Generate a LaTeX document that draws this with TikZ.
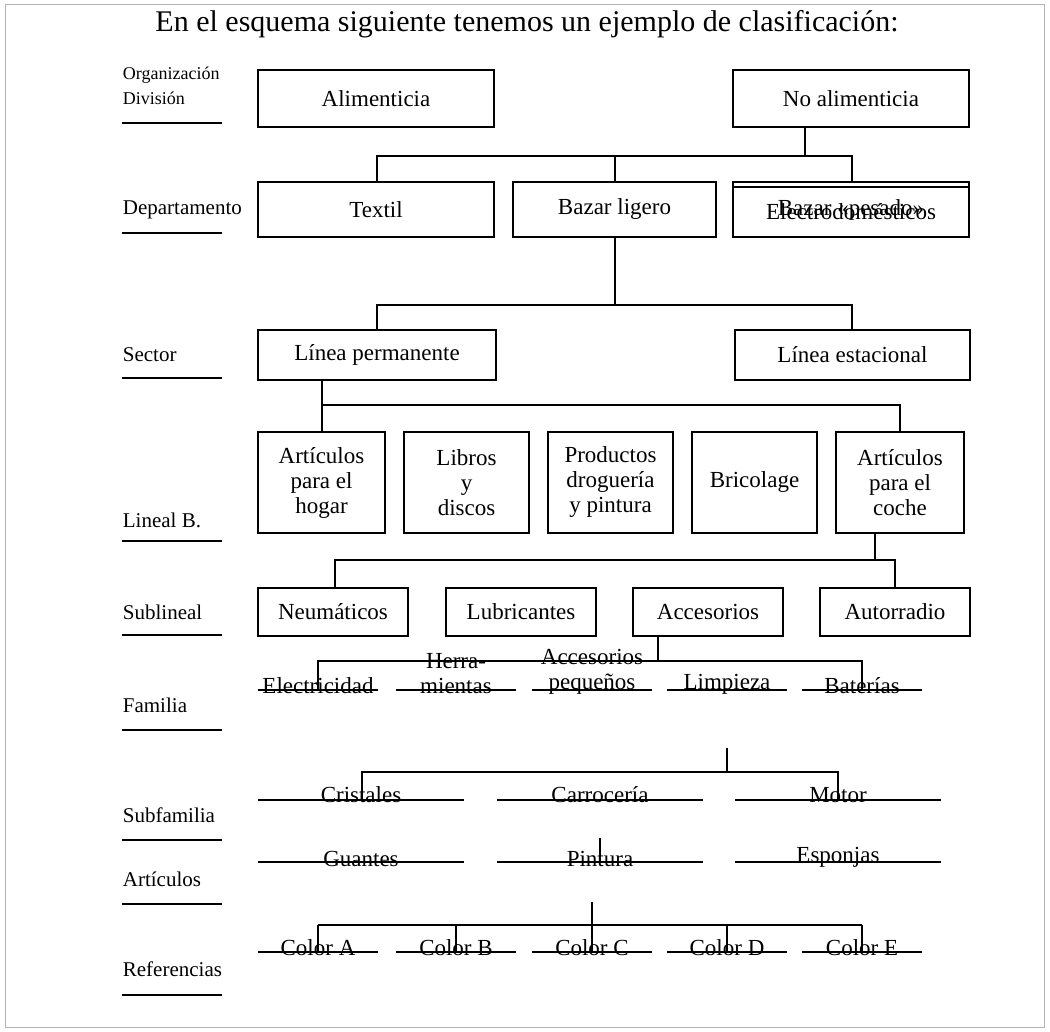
\documentclass[tikz,border=0pt]{standalone}
\usepackage{fontspec}
\setmainfont{Liberation Serif}
\begin{document}
\begin{tikzpicture}[x=1pt,y=-1pt,line width=1.8pt,
 bx/.style={draw,inner sep=0pt,font=\fontsize{23}{25}\selectfont,align=center},
 lbl/.style={anchor=west,inner sep=0pt,font=\fontsize{21}{23}\selectfont,align=left},
 txt/.style={inner sep=0pt,font=\fontsize{23}{25}\selectfont,align=center,anchor=south}]
\useasboundingbox (0,0) rectangle (1050,1032);
\draw[gray!60,line width=1pt] (5,5) rectangle (1044,1027);
\node[inner sep=0pt,font=\fontsize{30}{32}\selectfont] (title) at (527,24) {En el esquema siguiente tenemos un ejemplo de clasificación:};
% left labels
\node[lbl,font=\fontsize{18}{25}\selectfont] (l1) at (122,86) {Organización\\División};
\foreach \t/\y/\u [count=\i] in {Departamento/210/233,Sector/355/378,Lineal B./520/541,Sublineal/612/635,Familia/705/730,Subfamilia/815/840,Artículos/879/904,Referencias/969/995}{
 \node[lbl] (lab\i) at (122,\y) {\t};
 \coordinate (ua\i) at (122,\u); \coordinate (ub\i) at (222,\u);
 \draw (ua\i) -- (ub\i);}
\coordinate (ua0) at (122,123); \coordinate (ub0) at (222,123); \draw (ua0)--(ub0);
% row 1
\node[bx,minimum width=236pt,minimum height=57pt] (ali) at (376,98.5) {Alimenticia};
\node[bx,minimum width=236pt,minimum height=57pt] (noali) at (851,98.5) {No alimenticia};
% row 2
\node[bx,minimum width=236pt,minimum height=55pt] (tex) at (376,209.5) {Textil};
\node[bx,minimum width=203pt,minimum height=55pt] (bl) at (614.5,209.5) {Bazar ligero};
\node[bx,minimum width=236pt,minimum height=55pt] (bp) at (851,209.5) {Bazar «pesado»};
\node[bx,minimum width=236pt,minimum height=50pt,anchor=south] (el) at (bp.south) {Electrodomésticos};
\draw (noali.south -| 805,0) -- (805,156) coordinate (j1);
\draw (tex.north -| 377,0) -- (377,156) -- (852,156) -- (bp.north -| 852,0);
\draw (615,156) -- (bl.north -| 615,0);
% row 3
\node[bx,minimum width=238pt,minimum height=50pt] (lp) at (377,355) {Línea permanente};
\node[bx,minimum width=235pt,minimum height=50pt] (le) at (852.5,355) {Línea estacional};
\draw (bl.south -| 615,0) -- (615,305);
\draw (lp.north -| 377,0) -- (377,305) -- (852,305) -- (le.north -| 852,0);
% row 4
\foreach \n/\x/\w/\t in {a1/321.5/127/{Artículos\\para el\\hogar},a2/466.5/125/{Libros\\y\\discos},a3/610.5/125/{Productos\\droguería\\y pintura},a4/754.5/125/{Bricolage},a5/900/128/{Artículos\\para el\\coche}}
 \node[bx,minimum width=\w pt,minimum height=101pt] (\n) at (\x,482.5) {\t};
\draw (lp.south -| 322,0) -- (a1.north -| 322,0);
\draw (322,405) -- (900,405) -- (a5.north -| 900,0);
% row 5
\foreach \n/\x/\t in {s1/333/Neumáticos,s2/521/Lubricantes,s3/708/Accesorios,s4/895/Autorradio}
 \node[bx,minimum width=150pt,minimum height=48pt] (\n) at (\x,612) {\t};
\draw (a5.south -| 875,0) -- (875,560);
\draw (s1.north -| 335,0) -- (335,560) -- (895,560) -- (s4.north -| 895,0);
% familia
\foreach \n/\x/\t in {f1/318/Electricidad,f2/456/{Herra-\\mientas},f3/592/{Accesorios\\pequeños},f4/727/Limpieza,f5/862/Baterías}{
 \coordinate (\n a) at (\x-60,690); \coordinate (\n b) at (\x+60,690); \draw (\n a) -- (\n b);
 \node[txt] (\n) at (\x,695) {\t};}
\draw (s3.south -| 658,0) -- (658,661);
\draw (318,690) -- (318,661) -- (862,661) -- (862,690);
% subfamilia / articulos
\foreach \n/\x/\t/\u in {c1/361/Cristales/Guantes,c2/600/Carrocería/Pintura,c3/838/Motor/Esponjas}{
 \coordinate (\n a) at (\x-103,800); \coordinate (\n b) at (\x+103,800); \draw (\n a) -- (\n b);
 \node[txt] (\n) at (\x,804) {\t};
 \coordinate (\n c) at (\x-103,862); \coordinate (\n d) at (\x+103,862); \draw (\n c) -- (\n d);
 \node[txt] (\n u) at (\x,868) {\u};}
\draw (727,748) -- (727,772);
\draw (362,800) -- (362,772) -- (838,772) -- (838,800);
\draw (600,838) -- (600,862);
% referencias
\foreach \n/\x/\t in {r1/318/Color A,r2/456/Color B,r3/592/Color C,r4/727/Color D,r5/862/Color E}{
 \coordinate (\n a) at (\x-60,952); \coordinate (\n b) at (\x+60,952); \draw (\n a) -- (\n b);
 \node[txt] (\n) at (\x,957) {\t};
 \draw (\x,925) -- (\x,952);}
\draw (592,902) -- (592,925);
\draw (318,925) -- (862,925);
\end{tikzpicture}
\end{document}
